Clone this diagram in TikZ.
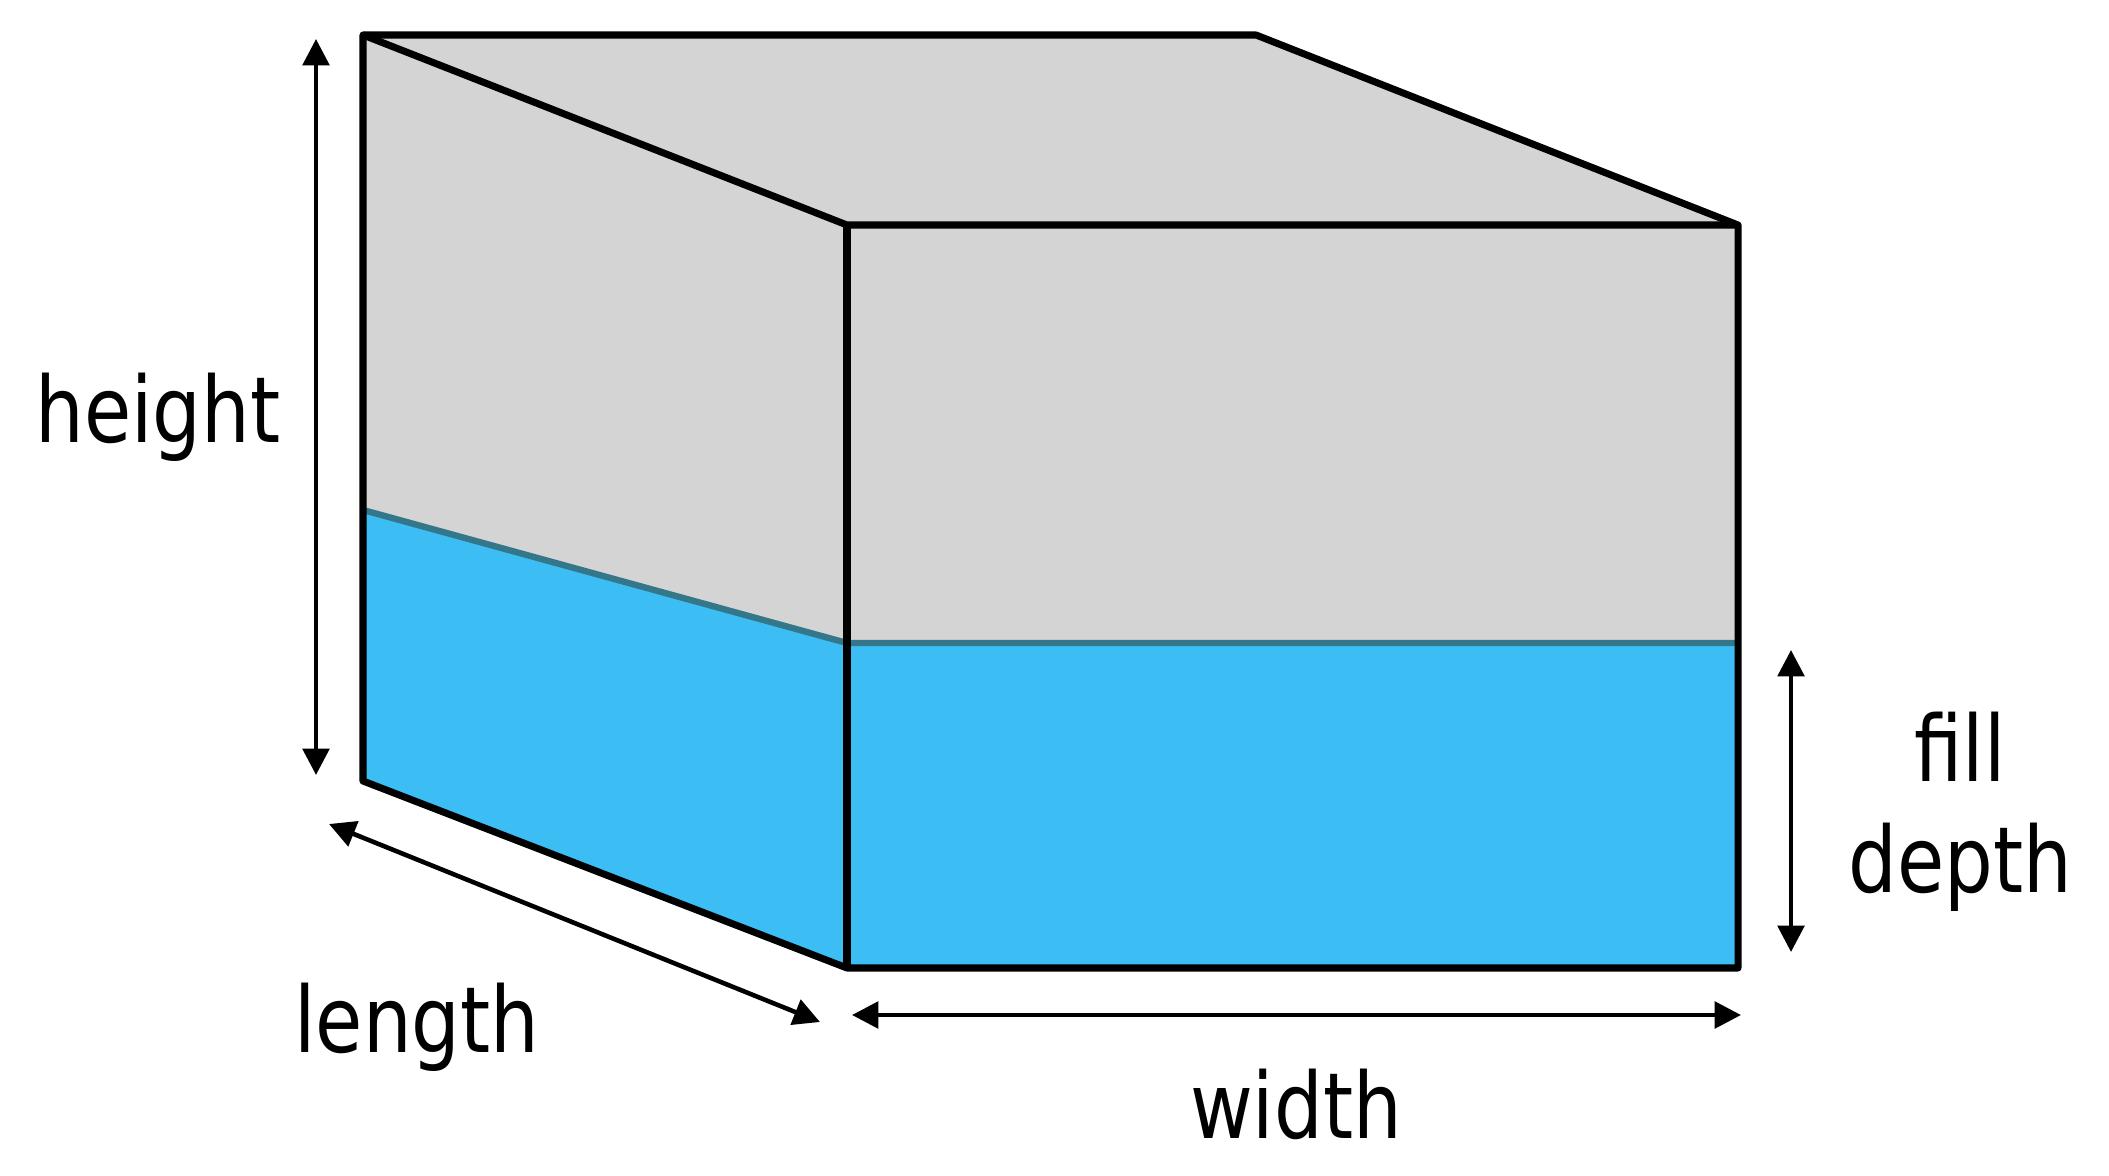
\documentclass[tikz,border=0pt]{standalone}
\usepackage{fontspec}
\setmainfont{DejaVu Sans}
\usepackage{tikz}
\usetikzlibrary{arrows.meta, positioning, calc}

\definecolor{boxgray}{RGB}{212,212,212}
\definecolor{water}{RGB}{60,190,245}
\definecolor{waterline}{RGB}{52,119,138}

\tikzset{
  edge/.style={line width=2pt, line join=round},
  dim/.style={{Triangle[length=7.5pt,width=7.5pt]}-{Triangle[length=7.5pt,width=7.5pt]}, line width=1.3pt},
  dimlabel/.style={font=\fontsize{26}{31.5}\selectfont, xscale=0.84, anchor=base, inner sep=0pt, align=center}
}

\begin{document}
\begin{tikzpicture}[x=0.01cm, y=-0.01cm]
  \useasboundingbox (0,0) rectangle (2109,1176);

  % box corners
  \coordinate (btl) at (363,35);
  \coordinate (btr) at (1256,35);
  \coordinate (ftl) at (847,225);
  \coordinate (ftr) at (1738,225);
  \coordinate (bbl) at (363,781);
  \coordinate (fbl) at (847,968);
  \coordinate (fbr) at (1738,968);
  % water surface
  \coordinate (wb) at (363,510);
  \coordinate (wl) at (847,643);
  \coordinate (wr) at (1738,643);

  \fill[boxgray] (btl) -- (btr) -- (ftr) -- (fbr) -- (fbl) -- (bbl) -- cycle;
  \fill[water] (wb) -- (wl) -- (wr) -- (fbr) -- (fbl) -- (bbl) -- cycle;
  \draw[waterline, line width=1.8pt] (wb) -- (wl) -- (wr);

  \draw[edge] (bbl) -- (btl) -- (btr) -- (ftr) -- (fbr) -- (fbl) -- cycle;
  \draw[edge] (btl) -- (ftl) -- (ftr);
  \draw[edge] (ftl) -- (fbl);

  % dimension arrows
  \coordinate (ha) at (316,39);
  \coordinate (hb) at (316,775);
  \coordinate (la) at (329,824);
  \coordinate (lb) at (820,1022);
  \coordinate (wa) at (852,1015);
  \coordinate (wz) at (1741,1015);
  \coordinate (da) at (1791,650);
  \coordinate (db) at (1791,952);
  \draw[dim] (ha) -- (hb);
  \draw[dim] (la) -- (lb);
  \draw[dim] (wa) -- (wz);
  \draw[dim] (da) -- (db);

  \node[dimlabel] (height) at (158,442) {height};
  \node[dimlabel] (length) at (417,1052) {length};
  \node[dimlabel] (width) at (1296,1138) {width};
  \node[dimlabel] (filldepth) at (1960,892) {fill\\depth};
\end{tikzpicture}
\end{document}
